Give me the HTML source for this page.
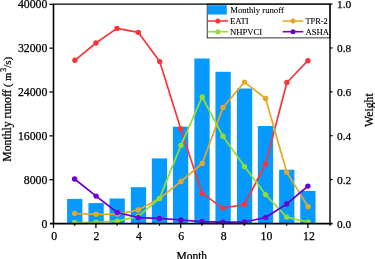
<!DOCTYPE html>
<html><head><meta charset="utf-8"><title>Monthly runoff</title>
<style>html,body{margin:0;padding:0;background:#fff}svg{display:block}text{font-family:"Liberation Serif","DejaVu Serif",serif;fill:#000;stroke:#000;stroke-width:0.25px}</style></head><body>
<svg width="375" height="259" viewBox="0 0 375 259">
<rect width="375" height="259" fill="#fff"/>
<rect x="67.10" y="198.90" width="15.3" height="24.50" fill="#069afe"/>
<rect x="88.45" y="203.10" width="15.3" height="20.30" fill="#069afe"/>
<rect x="109.55" y="198.50" width="15.3" height="24.90" fill="#069afe"/>
<rect x="130.85" y="187.20" width="15.3" height="36.20" fill="#069afe"/>
<rect x="151.85" y="158.40" width="15.3" height="65.00" fill="#069afe"/>
<rect x="172.95" y="126.70" width="15.3" height="96.70" fill="#069afe"/>
<rect x="194.35" y="58.50" width="15.3" height="164.90" fill="#069afe"/>
<rect x="215.45" y="71.80" width="15.3" height="151.60" fill="#069afe"/>
<rect x="236.95" y="88.50" width="15.3" height="134.90" fill="#069afe"/>
<rect x="257.85" y="126.00" width="15.3" height="97.40" fill="#069afe"/>
<rect x="279.10" y="169.70" width="15.3" height="53.70" fill="#069afe"/>
<rect x="300.25" y="190.90" width="15.3" height="32.50" fill="#069afe"/>
<polyline points="74.9,60.3 95.9,43.0 117.0,28.4 138.4,32.4 159.7,61.6 180.7,128.7 202.2,193.4 223.0,208.1 244.5,204.5 265.6,164.0 286.9,82.5 307.9,60.7" fill="none" stroke="#f8353a" stroke-width="1.7" stroke-linejoin="round"/>
<circle cx="74.9" cy="60.3" r="2.7" fill="#f8353a"/>
<circle cx="95.9" cy="43.0" r="2.7" fill="#f8353a"/>
<circle cx="117.0" cy="28.4" r="2.7" fill="#f8353a"/>
<circle cx="138.4" cy="32.4" r="2.7" fill="#f8353a"/>
<circle cx="159.7" cy="61.6" r="2.7" fill="#f8353a"/>
<circle cx="180.7" cy="128.7" r="2.7" fill="#f8353a"/>
<circle cx="202.2" cy="193.4" r="2.7" fill="#f8353a"/>
<circle cx="223.0" cy="208.1" r="2.7" fill="#f8353a"/>
<circle cx="244.5" cy="204.5" r="2.7" fill="#f8353a"/>
<circle cx="265.6" cy="164.0" r="2.7" fill="#f8353a"/>
<circle cx="286.9" cy="82.5" r="2.7" fill="#f8353a"/>
<circle cx="307.9" cy="60.7" r="2.7" fill="#f8353a"/>
<polyline points="74.6,213.5 96.1,214.3 117.3,214.1 138.3,210.0 159.5,198.6 180.9,181.5 202.2,163.5 223.0,107.5 244.5,82.1 265.6,98.5 286.7,172.1 308.1,206.7" fill="none" stroke="#e6a727" stroke-width="1.7" stroke-linejoin="round"/>
<circle cx="74.6" cy="213.5" r="2.7" fill="#e6a727"/>
<circle cx="96.1" cy="214.3" r="2.7" fill="#e6a727"/>
<circle cx="117.3" cy="214.1" r="2.7" fill="#e6a727"/>
<circle cx="138.3" cy="210.0" r="2.7" fill="#e6a727"/>
<circle cx="159.5" cy="198.6" r="2.7" fill="#e6a727"/>
<circle cx="180.9" cy="181.5" r="2.7" fill="#e6a727"/>
<circle cx="202.2" cy="163.5" r="2.7" fill="#e6a727"/>
<circle cx="223.0" cy="107.5" r="2.7" fill="#e6a727"/>
<circle cx="244.5" cy="82.1" r="2.7" fill="#e6a727"/>
<circle cx="265.6" cy="98.5" r="2.7" fill="#e6a727"/>
<circle cx="286.7" cy="172.1" r="2.7" fill="#e6a727"/>
<circle cx="308.1" cy="206.7" r="2.7" fill="#e6a727"/>
<polyline points="74.6,222.5 96.1,222.3 117.3,221.1 138.3,216.4 159.5,198.4 180.9,145.4 202.2,97.0 223.0,136.3 244.5,166.6 265.6,194.6 286.7,217.1 308.1,222.1" fill="none" stroke="#92df2c" stroke-width="1.7" stroke-linejoin="round"/>
<circle cx="74.6" cy="222.5" r="2.7" fill="#92df2c"/>
<circle cx="96.1" cy="222.3" r="2.7" fill="#92df2c"/>
<circle cx="117.3" cy="221.1" r="2.7" fill="#92df2c"/>
<circle cx="138.3" cy="216.4" r="2.7" fill="#92df2c"/>
<circle cx="159.5" cy="198.4" r="2.7" fill="#92df2c"/>
<circle cx="180.9" cy="145.4" r="2.7" fill="#92df2c"/>
<circle cx="202.2" cy="97.0" r="2.7" fill="#92df2c"/>
<circle cx="223.0" cy="136.3" r="2.7" fill="#92df2c"/>
<circle cx="244.5" cy="166.6" r="2.7" fill="#92df2c"/>
<circle cx="265.6" cy="194.6" r="2.7" fill="#92df2c"/>
<circle cx="286.7" cy="217.1" r="2.7" fill="#92df2c"/>
<circle cx="308.1" cy="222.1" r="2.7" fill="#92df2c"/>
<polyline points="74.6,179.0 96.1,196.1 117.3,212.5 138.3,217.6 159.4,218.4 180.9,220.0 202.2,221.7 223.0,222.1 244.5,222.0 265.6,217.5 286.7,204.0 307.9,186.1" fill="none" stroke="#6a00d6" stroke-width="1.7" stroke-linejoin="round"/>
<circle cx="74.6" cy="179.0" r="2.7" fill="#6a00d6"/>
<circle cx="96.1" cy="196.1" r="2.7" fill="#6a00d6"/>
<circle cx="117.3" cy="212.5" r="2.7" fill="#6a00d6"/>
<circle cx="138.3" cy="217.6" r="2.7" fill="#6a00d6"/>
<circle cx="159.4" cy="218.4" r="2.7" fill="#6a00d6"/>
<circle cx="180.9" cy="220.0" r="2.7" fill="#6a00d6"/>
<circle cx="202.2" cy="221.7" r="2.7" fill="#6a00d6"/>
<circle cx="223.0" cy="222.1" r="2.7" fill="#6a00d6"/>
<circle cx="244.5" cy="222.0" r="2.7" fill="#6a00d6"/>
<circle cx="265.6" cy="217.5" r="2.7" fill="#6a00d6"/>
<circle cx="286.7" cy="204.0" r="2.7" fill="#6a00d6"/>
<circle cx="307.9" cy="186.1" r="2.7" fill="#6a00d6"/>
<rect x="207.2" y="4.1" width="122.8" height="33.8" fill="#fff" stroke="#000" stroke-width="0.8"/>
<rect x="207.6" y="5.2" width="19.2" height="9.3" fill="#069afe"/>
<text x="230.2" y="13.2" font-size="8.7" style="stroke-width:0.1px">Monthly runoff</text>
<line x1="207.6" y1="21.0" x2="228" y2="21.0" stroke="#f8353a" stroke-width="1.55"/>
<circle cx="217.8" cy="21.0" r="2.5" fill="#f8353a"/>
<text x="229.9" y="24.2" font-size="8.7" style="stroke-width:0.1px">EATI</text>
<line x1="207.6" y1="31.7" x2="228" y2="31.7" stroke="#92df2c" stroke-width="1.55"/>
<circle cx="217.8" cy="31.7" r="2.5" fill="#92df2c"/>
<text x="229.9" y="34.9" font-size="8.7" style="stroke-width:0.1px">NHPVCI</text>
<line x1="282.7" y1="21.0" x2="303.3" y2="21.0" stroke="#e6a727" stroke-width="1.55"/>
<circle cx="293.0" cy="21.0" r="2.5" fill="#e6a727"/>
<text x="305.4" y="24.2" font-size="8.35" style="stroke-width:0.1px">TPR-2</text>
<line x1="282.7" y1="31.7" x2="303.3" y2="31.7" stroke="#6a00d6" stroke-width="1.55"/>
<circle cx="293.0" cy="31.7" r="2.5" fill="#6a00d6"/>
<text x="305.4" y="34.9" font-size="8.7" style="stroke-width:0.1px">ASHA</text>
<line x1="53.5" y1="4.1" x2="330.0" y2="4.1" stroke="#000" stroke-width="1.1"/>
<line x1="53.5" y1="3.6999999999999997" x2="53.5" y2="224.20000000000002" stroke="#000" stroke-width="1.6"/>
<line x1="330.0" y1="3.6999999999999997" x2="330.0" y2="224.20000000000002" stroke="#000" stroke-width="1.4"/>
<line x1="49.9" y1="223.55" x2="332.6" y2="223.55" stroke="#000" stroke-width="1.8"/>
<text x="47.4" y="227.90" font-size="11.8" text-anchor="end">0</text>
<text x="337.0" y="227.90" font-size="11.4">0.0</text>
<line x1="49.3" y1="179.74" x2="53.5" y2="179.74" stroke="#000" stroke-width="1.2"/>
<line x1="330.0" y1="179.54" x2="332.6" y2="179.54" stroke="#000" stroke-width="1.2"/>
<text x="47.4" y="183.90" font-size="11.8" text-anchor="end">8000</text>
<text x="337.0" y="183.88" font-size="11.4">0.2</text>
<line x1="49.3" y1="135.88" x2="53.5" y2="135.88" stroke="#000" stroke-width="1.2"/>
<line x1="330.0" y1="135.68" x2="332.6" y2="135.68" stroke="#000" stroke-width="1.2"/>
<text x="47.4" y="139.90" font-size="11.8" text-anchor="end">16000</text>
<text x="337.0" y="139.86" font-size="11.4">0.4</text>
<line x1="49.3" y1="92.02" x2="53.5" y2="92.02" stroke="#000" stroke-width="1.2"/>
<line x1="330.0" y1="91.82" x2="332.6" y2="91.82" stroke="#000" stroke-width="1.2"/>
<text x="47.4" y="95.90" font-size="11.8" text-anchor="end">24000</text>
<text x="337.0" y="95.84" font-size="11.4">0.6</text>
<line x1="49.3" y1="48.16" x2="53.5" y2="48.16" stroke="#000" stroke-width="1.2"/>
<line x1="330.0" y1="47.96" x2="332.6" y2="47.96" stroke="#000" stroke-width="1.2"/>
<text x="47.4" y="51.90" font-size="11.8" text-anchor="end">32000</text>
<text x="337.0" y="51.82" font-size="11.4">0.8</text>
<line x1="49.3" y1="4.30" x2="53.5" y2="4.30" stroke="#000" stroke-width="1.2"/>
<line x1="330.0" y1="4.10" x2="332.6" y2="4.10" stroke="#000" stroke-width="1.2"/>
<text x="47.4" y="7.90" font-size="11.8" text-anchor="end">40000</text>
<text x="337.0" y="7.80" font-size="11.4">1.0</text>
<line x1="53.50" y1="223.4" x2="53.50" y2="227.9" stroke="#000" stroke-width="1.2"/>
<text x="54.10" y="240.3" font-size="11.8" text-anchor="middle">0</text>
<line x1="74.70" y1="223.4" x2="74.70" y2="225.8" stroke="#000" stroke-width="1.2"/>
<line x1="95.90" y1="223.4" x2="95.90" y2="227.9" stroke="#000" stroke-width="1.2"/>
<text x="96.50" y="240.3" font-size="11.8" text-anchor="middle">2</text>
<line x1="117.10" y1="223.4" x2="117.10" y2="225.8" stroke="#000" stroke-width="1.2"/>
<line x1="138.30" y1="223.4" x2="138.30" y2="227.9" stroke="#000" stroke-width="1.2"/>
<text x="138.90" y="240.3" font-size="11.8" text-anchor="middle">4</text>
<line x1="159.50" y1="223.4" x2="159.50" y2="225.8" stroke="#000" stroke-width="1.2"/>
<line x1="180.70" y1="223.4" x2="180.70" y2="227.9" stroke="#000" stroke-width="1.2"/>
<text x="181.30" y="240.3" font-size="11.8" text-anchor="middle">6</text>
<line x1="201.90" y1="223.4" x2="201.90" y2="225.8" stroke="#000" stroke-width="1.2"/>
<line x1="223.10" y1="223.4" x2="223.10" y2="227.9" stroke="#000" stroke-width="1.2"/>
<text x="223.70" y="240.3" font-size="11.8" text-anchor="middle">8</text>
<line x1="244.30" y1="223.4" x2="244.30" y2="225.8" stroke="#000" stroke-width="1.2"/>
<line x1="265.50" y1="223.4" x2="265.50" y2="227.9" stroke="#000" stroke-width="1.2"/>
<text x="266.50" y="240.3" font-size="11.8" text-anchor="middle">10</text>
<line x1="286.70" y1="223.4" x2="286.70" y2="225.8" stroke="#000" stroke-width="1.2"/>
<line x1="307.90" y1="223.4" x2="307.90" y2="227.9" stroke="#000" stroke-width="1.2"/>
<text x="308.90" y="240.3" font-size="11.8" text-anchor="middle">12</text>
<line x1="330.00" y1="223.4" x2="330.00" y2="225.8" stroke="#000" stroke-width="1.2"/>
<text x="191.8" y="259.6" font-size="11.5" text-anchor="middle">Month</text>
<text transform="translate(10.6,161.7) rotate(-90)" font-size="11.7">Monthly runoff<tspan font-size="10.5"> (</tspan><tspan font-size="10.2"> m</tspan><tspan font-size="7.8" dx="1.2" dy="-5">3</tspan><tspan font-size="11" dy="5">/s)</tspan></text>
<text transform="translate(372.5,127) rotate(-90)" font-size="11.8">Weight</text>
</svg></body></html>
